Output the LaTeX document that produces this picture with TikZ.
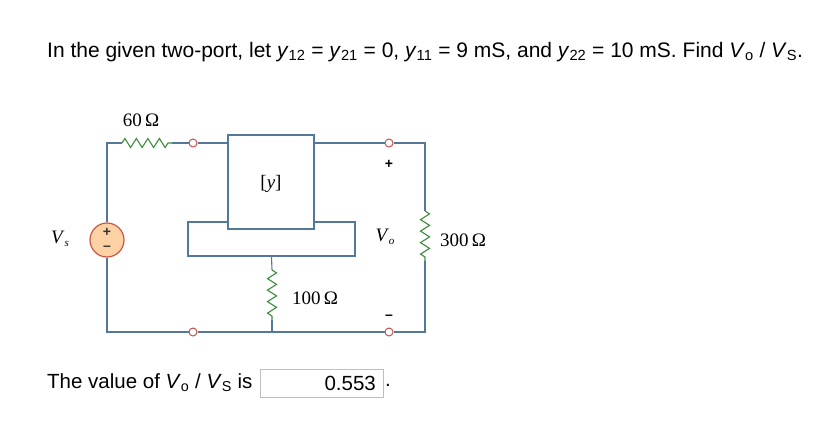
\documentclass[tikz,border=0pt]{standalone}
\usepackage{fontspec}
\setmainfont{Liberation Sans}
\newfontfamily\tms{Liberation Serif}
\usetikzlibrary{decorations.pathmorphing}
\begin{document}
\begin{tikzpicture}[x=1pt,y=-1pt,
  wire/.style={draw=wirec,line width=1.1pt},
  res/.style={draw=resc,line width=1.1pt,decorate,decoration={zigzag,segment length=11.5pt,amplitude=4.5pt}},
  term/.style={circle,draw=termc,fill=white,line width=1pt,inner sep=0pt,minimum size=8pt},
  lab/.style={font=\tms\fontsize{19}{21}\selectfont,inner sep=0pt},
  txt/.style={font=\fontsize{20.5}{22}\selectfont,inner sep=0pt}]
\definecolor{wirec}{HTML}{557799}
\definecolor{resc}{HTML}{3C8C3C}
\definecolor{termc}{HTML}{C8504A}
\useasboundingbox (0,0) rectangle (829,444);
\node[font=\fontsize{21}{23}\selectfont,inner sep=0pt,anchor=west] (title) at (47,52) {In the given two-port, let \textit{y}\textsubscript{12} = \textit{y}\textsubscript{21} = 0, \textit{y}\textsubscript{11} = 9 mS, and \textit{y}\textsubscript{22} = 10 mS. Find \textit{V}\textsubscript{o} / \textit{V}\textsubscript{S}.};
% coordinates
\coordinate (tl) at (107,143);
\coordinate (bl) at (107,332);
\coordinate (tr) at (425,143);
\coordinate (br) at (425,332);
\coordinate (r1a) at (122,143); \coordinate (r1b) at (172,143);
\coordinate (r3a) at (425,211); \coordinate (r3b) at (425,261);
\coordinate (r2a) at (272,270); \coordinate (r2b) at (272,320);
\node[term] (t1) at (193,143) {};
\node[term] (t2) at (193,332) {};
\node[term] (t3) at (389,143) {};
\node[term] (t4) at (389,332) {};
\node[draw=wirec,line width=1.1pt,minimum width=167pt,minimum height=34pt,inner sep=0pt] (base) at (271.5,239) {};
\node[draw=wirec,fill=white,line width=1.1pt,minimum width=86pt,minimum height=94pt,inner sep=0pt] (box) at (271,182) {};
\node[lab] (ylab) at (271,184) {[\textit{y}]};
\node[circle,draw=termc!90!orange,fill=orange!35,line width=1.2pt,minimum size=34pt,inner sep=0pt] (src) at (107,240) {};
\node[font=\fontsize{14}{14}\selectfont\bfseries,text=black!80] at (107,232) {+};
\node[font=\fontsize{14}{14}\selectfont\bfseries,text=black!80] at (107,248) {--};
% wires
\draw[wire] (src.north) -- (tl) -- (r1a);
\draw[res] (r1a) -- (r1b);
\draw[wire] (r1b) -- (t1.west);
\draw[wire] (t1.east) -- (box.west |- t1);
\draw[wire] (box.east |- t3) -- (t3.west);
\draw[wire] (t3.east) -- (tr) -- (r3a);
\draw[res] (r3a) -- (r3b);
\draw[wire] (r3b) -- (br) -- (t4.east);
\draw[wire] (t4.west) -- (t2.east);
\draw[wire] (t2.west) -- (bl) -- (src.south);
\draw[wire] (base.south) -- (r2a);
\draw[res] (r2a) -- (r2b);
\draw[wire] (r2b) -- (272,332);
% labels
\node[lab] (l60) at (141,120) {60\,Ω};
\node[lab] (l100) at (315,298) {100\,Ω};
\node[lab] (l300) at (463,240) {300\,Ω};
\node[lab] (vs) at (60,239) {\textit{V}\raisebox{-3pt}{\fontsize{11}{11}\selectfont\textit{s}}};
\node[lab] (vo) at (385,237) {\textit{V}\raisebox{-3pt}{\fontsize{11}{11}\selectfont\textit{o}}};
\node[font=\fontsize{14}{14}\selectfont\bfseries] (plus) at (389,164) {+};
\node[font=\fontsize{14}{14}\selectfont\bfseries] (minus) at (389,317) {--};
% answer
\node[txt,anchor=west] (q) at (47,383) {The value of \textit{V}\textsubscript{o} / \textit{V}\textsubscript{S} is};
\node[draw=black!25,line width=0.8pt,minimum width=123pt,minimum height=28pt,inner sep=0pt] (ans) at (321.5,383) {};
\node[txt,anchor=east] (val) at (376,383) {0.553};
\node[txt,anchor=west] (dot) at (385,385) {.};
\end{tikzpicture}
\end{document}
